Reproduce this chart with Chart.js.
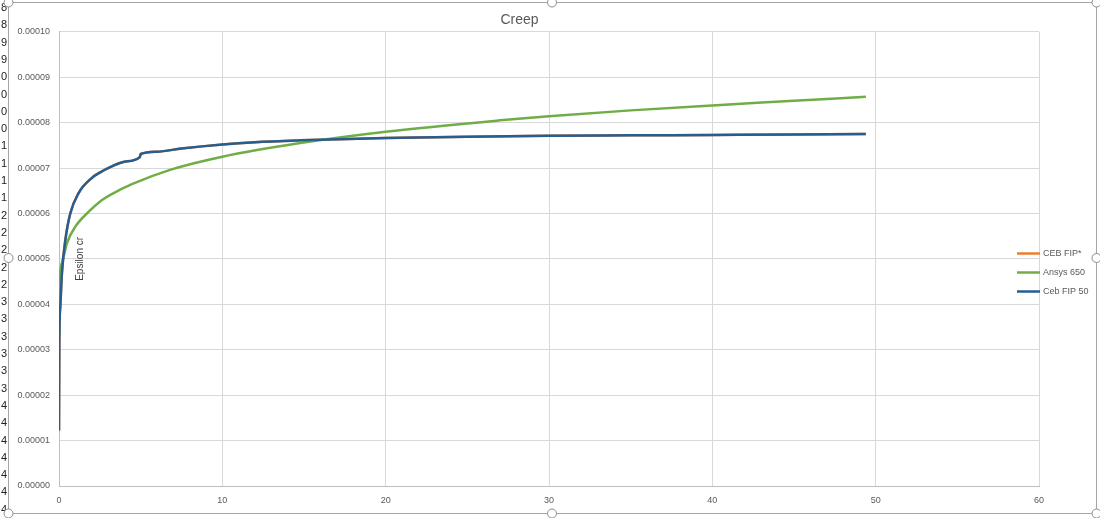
<!DOCTYPE html>
<html>
<head>
<meta charset="utf-8">
<script src="https://cdn.jsdelivr.net/npm/chart.js@4.4.1/dist/chart.umd.min.js"></script>
<style>
  html, body { margin: 0; padding: 0; background: #ffffff; }
  #wrap { width: 1100px; height: 518px; }
</style>
</head>
<body>
<div id="wrap"><canvas id="c" width="1100" height="518"></canvas></div>
<script>
// ---- data ----
const chartTitle = 'Creep';
const axisTitleY = 'Epsilon cr';
const seriesNames = ['CEB FIP*', 'Ansys 650', 'Ceb FIP 50'];
const seriesColors = ['#ed7d31', '#70ad47', '#255e91'];

// Ceb FIP 50 (the CEB FIP* series lies underneath it)
const cebX = [0, 0.02, 0.08, 0.18, 0.39, 0.69, 1.2, 2.0, 2.5, 3.2, 4.0, 4.95, 5.0, 6, 7.5, 10, 12, 14.8, 20, 25, 30, 35, 40, 45, 49.4];
const cebY = [0.0000122, 0.0000320, 0.0000395, 0.0000469, 0.0000542, 0.0000600, 0.0000645, 0.0000678, 0.0000690, 0.0000703, 0.0000714, 0.0000724, 0.0000731, 0.0000736, 0.0000743, 0.0000752, 0.0000757, 0.0000761, 0.0000766, 0.0000769, 0.0000771, 0.0000772, 0.0000773, 0.0000774, 0.0000775];

// Ansys 650
const ansysX = [0, 0.02, 0.18, 0.49, 1.0, 1.82, 2.5, 3.2, 4.5, 6.8, 10, 14.76, 20, 27, 30, 35, 40, 45, 49.4];
const ansysY = [0.0000329, 0.0000432, 0.0000491, 0.0000535, 0.0000571, 0.0000604, 0.0000626, 0.0000642, 0.0000665, 0.0000696, 0.0000725, 0.0000755, 0.0000780, 0.0000805, 0.0000814, 0.0000827, 0.0000838, 0.0000848, 0.0000857];

const xTickValues = [0, 10, 20, 30, 40, 50, 60];
const yTickStep = 0.00001;
const yMax = 0.0001;

// digits of the spreadsheet column visible at the left edge
const edgeDigits = ['8','8','9','9','0','0','0','0','1','1','1','1','2','2','2','2','2','3','3','3','3','3','3','4','4','4','4','4','4','4'];

function pts(xs, ys) { return xs.map((x, i) => ({ x: x, y: ys[i] })); }

const FONT = '"Liberation Sans", Arial, sans-serif';

const decor = {
  id: 'decor',
  beforeDraw(chart) {
    const ctx = chart.ctx;
    ctx.save();
    ctx.fillStyle = '#ffffff';
    ctx.fillRect(0, 0, chart.width, chart.height);
    ctx.fillStyle = '#222222';
    ctx.font = '11px ' + FONT;
    ctx.textBaseline = 'middle';
    ctx.textAlign = 'right';
    edgeDigits.forEach((d, i) => ctx.fillText(d, 7, 8 + i * 17.3));
    ctx.fillStyle = '#ffffff';
    ctx.fillRect(8, 2, 1089, 512);
    ctx.strokeStyle = '#a6a6a6';
    ctx.lineWidth = 1;
    ctx.strokeRect(8.5, 2.5, 1088, 511);
    ctx.restore();
  },
  afterDraw(chart) {
    const ctx = chart.ctx;
    const ca = chart.chartArea;
    ctx.save();
    ctx.fillStyle = '#404040';
    ctx.font = '10px ' + FONT;
    ctx.textAlign = 'center';
    ctx.textBaseline = 'middle';
    ctx.translate(80, (ca.top + ca.bottom) / 2);
    ctx.rotate(-Math.PI / 2);
    ctx.fillText(axisTitleY, 0, 0);
    ctx.restore();

    ctx.save();
    ctx.font = '9px ' + FONT;
    ctx.textBaseline = 'middle';
    ctx.textAlign = 'left';
    seriesNames.forEach((name, i) => {
      const y = 253.5 + i * 19;
      ctx.strokeStyle = seriesColors[i];
      ctx.lineWidth = 2.5;
      ctx.beginPath();
      ctx.moveTo(1017, y);
      ctx.lineTo(1040, y);
      ctx.stroke();
      ctx.fillStyle = '#595959';
      ctx.fillText(name, 1043, y);
    });
    ctx.restore();

    ctx.save();
    ctx.fillStyle = '#ffffff';
    ctx.strokeStyle = '#8c8c8c';
    ctx.lineWidth = 1;
    [[8.5, 2.5], [552, 2.5], [1096.5, 2.5], [8.5, 258], [1096.5, 258], [8.5, 513.5], [552, 513.5], [1096.5, 513.5]].forEach(p => {
      ctx.beginPath();
      ctx.arc(p[0], p[1], 4.5, 0, Math.PI * 2);
      ctx.fill();
      ctx.stroke();
    });
    ctx.restore();
  }
};

new Chart(document.getElementById('c'), {
  type: 'line',
  data: {
    datasets: [
      { label: seriesNames[0], data: pts(cebX, cebY), borderColor: seriesColors[0], backgroundColor: seriesColors[0], order: 3 },
      { label: seriesNames[1], data: pts(ansysX, ansysY), borderColor: seriesColors[1], backgroundColor: seriesColors[1], order: 2 },
      { label: seriesNames[2], data: pts(cebX, cebY), borderColor: seriesColors[2], backgroundColor: seriesColors[2], order: 1 }
    ]
  },
  options: {
    responsive: false,
    animation: false,
    datasets: {
      line: { borderWidth: 2.5, pointRadius: 0, fill: false, cubicInterpolationMode: 'monotone' }
    },
    layout: { padding: { left: 0, right: 61, top: 0, bottom: 0 } },
    plugins: {
      legend: { display: false },
      tooltip: { enabled: false },
      title: {
        display: true,
        text: chartTitle,
        color: '#595959',
        font: { family: FONT, size: 14, weight: 'normal' },
        padding: { top: 12, bottom: 3 }
      }
    },
    scales: {
      x: {
        type: 'linear',
        min: 0,
        max: 60,
        afterBuildTicks(scale) { scale.ticks = xTickValues.map(v => ({ value: v })); },
        afterFit(scale) { scale.height = 32; },
        grid: { color: '#d9d9d9', drawTicks: false },
        border: { color: '#bfbfbf' },
        ticks: { color: '#595959', padding: 9, maxRotation: 0, font: { family: FONT, size: 9 } }
      },
      y: {
        min: 0,
        max: yMax,
        afterFit(scale) { scale.width = 59; },
        grid: { color: '#d9d9d9', drawTicks: false },
        border: { color: '#bfbfbf' },
        ticks: {
          stepSize: yTickStep,
          color: '#595959',
          padding: 9,
          font: { family: FONT, size: 9 },
          callback: v => Number(v).toFixed(5)
        }
      }
    }
  },
  plugins: [decor]
});
</script>
</body>
</html>
